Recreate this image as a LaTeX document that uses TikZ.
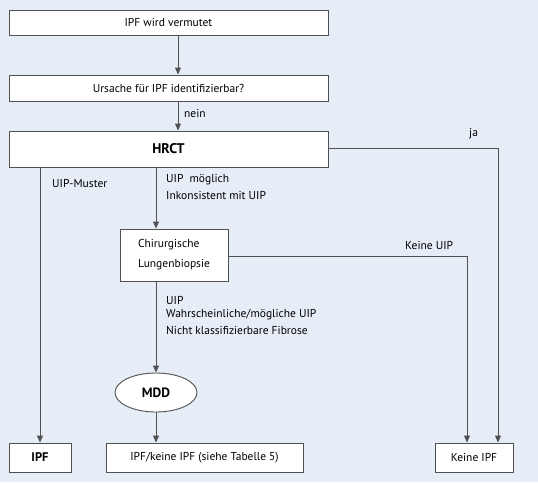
\documentclass[tikz,border=0pt]{standalone}
\usepackage{fontspec}
\setmainfont{PT Sans}
\usetikzlibrary{arrows.meta,shapes.geometric}
\definecolor{bgblue}{HTML}{E6EDF7}
\definecolor{linegray}{HTML}{505050}
\begin{document}
\begin{tikzpicture}[x=1pt,y=-1pt,
  box/.style={rectangle,draw=linegray,fill=white,line width=0.9pt,inner sep=0pt,font=\fontsize{11.5}{13}\selectfont},
  lbl/.style={anchor=west,inner sep=0pt,font=\fontsize{11.5}{13}\selectfont},
  arr/.style={draw=linegray,line width=0.9pt,-{Triangle[length=7pt,width=6pt]}}]
\fill[bgblue] (0,0) rectangle (538,482);
\useasboundingbox (0,0) rectangle (538,482);
\node[box,minimum width=319pt,minimum height=25pt] (verm) at (168.5,22.5) {IPF wird vermutet};
\node[box,minimum width=319pt,minimum height=26pt] (ursache) at (168.5,88) {Ursache für IPF identifizierbar?};
\node[box,minimum width=319pt,minimum height=36pt,font=\fontsize{14}{16}\bfseries] (hrct) at (168.5,149) {HRCT};
\node[box,minimum width=108pt,minimum height=52pt,align=left,font=\fontsize{11.5}{20}\selectfont] (biopsie) at (174,255) {Chirurgische\\Lungenbiopsie};
\node[box,ellipse,minimum width=82pt,minimum height=39pt,font=\fontsize{13.5}{15}\bfseries] (mdd) at (156,392.5) {MDD};
\node[box,minimum width=62pt,minimum height=29pt,font=\fontsize{12.5}{14}\bfseries] (ipf) at (40,457.5) {IPF};
\node[box,minimum width=197pt,minimum height=29pt] (ipfkeine) at (204.5,457.5) {IPF/keine IPF (siehe Tabelle 5)};
\node[box,minimum width=78pt,minimum height=29pt] (keineipf) at (474,457.5) {Keine IPF};
% labels
\node[lbl] (nein) at (184,113) {nein};
\node[lbl] (ja) at (469,134) {ja};
\node[lbl] (muster) at (52,183) {UIP-Muster};
\node[lbl] (moeglich1) at (166,180) {UIP\ \ möglich};
\node[lbl] (moeglich2) at (166,195) {Inkonsistent mit UIP};
\node[lbl] (keineuip) at (405,245) {Keine UIP};
\node[lbl] (uip1) at (166,300) {UIP};
\node[lbl] (uip2) at (166,315) {Wahrscheinliche/mögliche UIP};
\node[lbl] (uip3) at (166,330) {Nicht klassifizierbare Fibrose};
% connectors
\draw[arr] (178,0 |- verm.south) -- (178,0 |- ursache.north);
\draw[arr] (178,0 |- ursache.south) -- (178,0 |- hrct.north);
\draw[arr] (hrct.east |- 0,148) -- (498,148) -- (498,0 |- keineipf.north);
\draw[arr] (40,0 |- hrct.south) -- (ipf.north);
\draw[arr] (156,0 |- hrct.south) -- (156,0 |- biopsie.north);
\draw[arr] (biopsie.east |- 0,256) -- (467,256) -- (467,0 |- keineipf.north);
\draw[arr] (156,0 |- biopsie.south) -- (mdd.north);
\draw[arr] (mdd.south) -- (156,0 |- ipfkeine.north);
\end{tikzpicture}
\end{document}
